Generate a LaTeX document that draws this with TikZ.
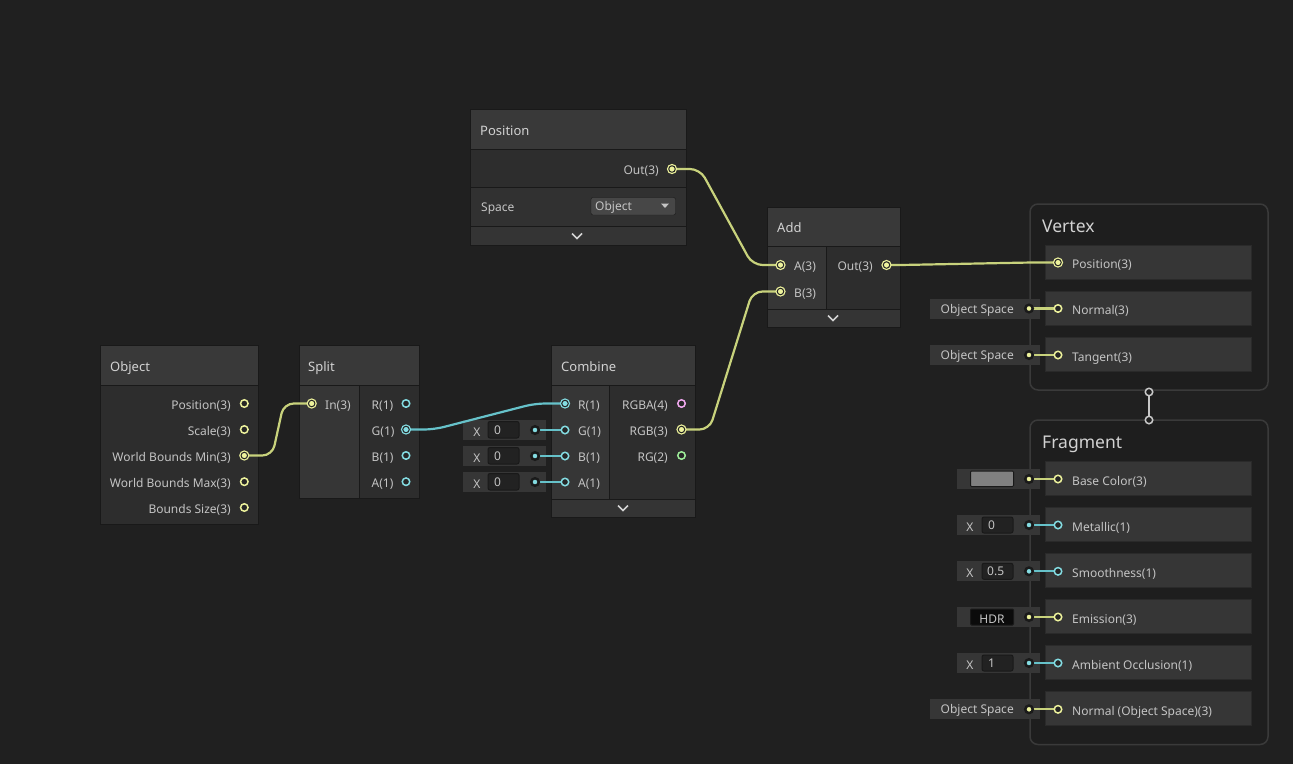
\documentclass[tikz,border=0pt]{standalone}
\usepackage{fontspec}
\setmainfont{Noto Sans}
\usetikzlibrary{calc}
\definecolor{bgc}{HTML}{202020}
\definecolor{bordc}{HTML}{191919}
\definecolor{hdrc}{HTML}{393939}
\definecolor{bodyc}{HTML}{2D2D2D}
\definecolor{inc}{HTML}{363636}
\definecolor{rowc}{HTML}{313131}
\definecolor{chevc}{HTML}{343434}
\definecolor{ddc}{HTML}{474747}
\definecolor{txtc}{HTML}{C4C4C4}
\definecolor{hdrtxt}{HTML}{D2D2D2}
\definecolor{yelc}{HTML}{EDF29C}
\definecolor{cyac}{HTML}{84DCE2}
\definecolor{pinc}{HTML}{F0A8EE}
\definecolor{grnc}{HTML}{9CEB98}
\definecolor{wyel}{HTML}{C8D27C}
\definecolor{wcya}{HTML}{66C2CA}
\definecolor{portbg}{HTML}{262626}
\definecolor{dotbg}{HTML}{1A1A1A}
\definecolor{blockc}{HTML}{1E1E1E}
\definecolor{blockb}{HTML}{3A3A3A}
\definecolor{slotc}{HTML}{363636}
\definecolor{slotb}{HTML}{2A2A2A}
\definecolor{fieldc}{HTML}{222222}
\definecolor{flowc}{HTML}{C8C8C8}
\definecolor{swatchc}{HTML}{808080}
\definecolor{hdrfield}{HTML}{0B0B0B}
\pgfdeclarelayer{boxlayer}
\pgfdeclarelayer{wirelayer}
\pgfsetlayers{boxlayer,wirelayer,main}
\begin{document}
\begin{tikzpicture}[x=1pt,y=-1pt,
 lbl/.style={text=txtc,font=\fontsize{12}{14}\selectfont,inner sep=0pt,yshift=-1.5pt},
 lw/.style={lbl,anchor=mid west},
 le/.style={lbl,anchor=mid east},
 hdr/.style={text=hdrtxt,font=\fontsize{13}{15}\selectfont,inner sep=0pt,anchor=mid west,yshift=-2.5pt},
 ttl/.style={text=hdrtxt,font=\fontsize{17.5}{20}\selectfont,inner sep=0pt,anchor=mid west,yshift=-3.5pt},
 oport/.style={circle,inner sep=0pt,minimum size=7.5pt,draw=#1,line width=1.5pt,fill=portbg},
 cport/.style={circle,inner sep=0pt,minimum size=6.5pt,draw=#1,fill=#1,double=portbg,double distance=1pt,line width=1.25pt},
 idot/.style={circle,inner sep=0pt,minimum size=7.5pt,fill=#1,draw=dotbg,line width=2.5pt},
 flow/.style={circle,inner sep=0pt,minimum size=7.5pt,draw=flowc,line width=1.5pt,fill=bgc},
 wY/.style={draw=wyel,line width=2.2pt,rounded corners=10pt},
 wC/.style={draw=wcya,line width=2.2pt,rounded corners=10pt},
 iwY/.style={draw=wyel,line width=2.2pt},
 iwC/.style={draw=wcya,line width=2.2pt},
 chev/.style={draw=hdrtxt,line width=1.5pt},
 slot/.style={fill=slotc,draw=slotb,line width=1pt},
 field/.style={fill=fieldc,draw=bordc,line width=1pt,rounded corners=2pt},
]
\useasboundingbox (0,0) rectangle (1293,764);
\begin{pgfonlayer}{boxlayer}
\fill[bgc] (0,0) rectangle (1293,764);
% Position node
\fill[bordc] (470,109) rectangle (686.5,246);
\fill[hdrc] (471,110) rectangle (685.5,149);
\fill[bodyc] (471,150) rectangle (685.5,186.5);
\fill[rowc] (471,187.5) rectangle (685.5,226);
\fill[chevc] (471,227) rectangle (685.5,245);
\filldraw[fill=ddc,draw=bordc,rounded corners=2pt] (591,197.5) rectangle (675.5,215);
\fill[txtc] (661,203.5) -- (669,203.5) -- (665,208) -- cycle;
\draw[chev] (572,233.5) -- (577,238.5) -- (582,233.5);
% Add node
\fill[bordc] (766.5,206.5) rectangle (900.5,327.5);
\fill[hdrc] (767.5,207.5) rectangle (899.5,246);
\fill[inc] (767.5,247) rectangle (826,309);
\fill[bodyc] (827,247) rectangle (899.5,309);
\fill[chevc] (767.5,310) rectangle (899.5,326.5);
\draw[chev] (828,315.5) -- (833,320.5) -- (838,315.5);
% Object node
\fill[bordc] (100,345) rectangle (258.5,525);
\fill[hdrc] (101,346) rectangle (257.5,385);
\fill[bodyc] (101,386) rectangle (257.5,524);
% Split node
\fill[bordc] (298.5,345) rectangle (420,499);
\fill[hdrc] (299.5,346) rectangle (419,385);
\fill[inc] (299.5,386) rectangle (359,498);
\fill[bodyc] (360,386) rectangle (419,498);
% Combine node
\fill[bordc] (551,345) rectangle (695.5,518);
\fill[hdrc] (552,346) rectangle (694.5,385);
\fill[inc] (552,386) rectangle (608.5,499);
\fill[bodyc] (609.5,386) rectangle (694.5,499);
\fill[chevc] (552,500) rectangle (694.5,517);
\draw[chev] (618,505.5) -- (623,510.5) -- (628,505.5);
% Combine inline boxes
\foreach \yy in {430,456,482}{
  \fill[slotc] (463,\yy-10) rectangle (546,\yy+10);
  \filldraw[field] (488,\yy-8.5) rectangle (519,\yy+8);
}
% Vertex block
\filldraw[fill=blockc,draw=blockb,line width=1.5pt,rounded corners=8pt] (1030,204) rectangle (1268,390);
\foreach \yy in {245.5,291.5,337.5}{
  \filldraw[slot] (1045.5,\yy) rectangle (1251.5,\yy+34);
}
\fill[slotc] (930,298.5) rectangle (1040,318.5);
\fill[slotc] (930,345) rectangle (1040,365);
% Fragment block
\filldraw[fill=blockc,draw=blockb,line width=1.5pt,rounded corners=8pt] (1030,420) rectangle (1268,744.5);
\foreach \yy in {461.5,507.5,553.5,599.5,645.5,691.5}{
  \filldraw[slot] (1045.5,\yy) rectangle (1251.5,\yy+34);
}
\fill[slotc] (957,469) rectangle (1040,489);
\filldraw[fill=swatchc,draw=bordc,line width=1pt,rounded corners=1pt] (970.5,471) rectangle (1013.5,486.5);
\fill[slotc] (957,515) rectangle (1040,535);
\filldraw[field] (982,517) rectangle (1013,533);
\fill[slotc] (957,561.3) rectangle (1040,581.3);
\filldraw[field] (982,563.3) rectangle (1013,579.3);
\fill[slotc] (957,607) rectangle (1040,627);
\filldraw[fill=hdrfield,draw=bordc,line width=1pt,rounded corners=1pt] (970.5,609) rectangle (1013.5,625);
\fill[slotc] (957,653) rectangle (1040,673);
\filldraw[field] (982,655) rectangle (1013,671);
\fill[slotc] (930,699.3) rectangle (1040,719.3);
\end{pgfonlayer}

% Headers
\node[hdr] (hPos) at (480,130) {Position};
\node[hdr] (hAdd) at (777,227) {Add};
\node[hdr] (hObj) at (110,366) {Object};
\node[hdr] (hSpl) at (308,366) {Split};
\node[hdr] (hCmb) at (561,366) {Combine};
\node[ttl] (hVtx) at (1042,226) {Vertex};
\node[ttl] (hFrg) at (1042,442) {Fragment};

% Position node
\node[cport=yelc] (pOut) at (672,169) {};
\node[le] (tpOut) at (659,170.5) {Out(3)};
\node[lw] (tSpace) at (481,207) {Space};
\node[lw] (tObjDD) at (595,206.5) {Object};

% Add node
\node[cport=yelc] (aA) at (780.5,265) {};
\node[cport=yelc] (aB) at (780.5,291.5) {};
\node[cport=yelc] (aOut) at (886.5,265) {};
\node[lw] (taA) at (794,266.5) {A(3)};
\node[lw] (taB) at (794,293) {B(3)};
\node[le] (taOut) at (873,266.5) {Out(3)};

% Object node
\node[oport=yelc] (oPos) at (244.3,403.5) {};
\node[oport=yelc] (oScale) at (244.3,429.5) {};
\node[cport=yelc] (oMin) at (244.3,455.5) {};
\node[oport=yelc] (oMax) at (244.3,481.7) {};
\node[oport=yelc] (oSize) at (244.3,507.5) {};
\node[le] (toPos) at (231,405) {Position(3)};
\node[le] (toScale) at (231,431) {Scale(3)};
\node[le] (toMin) at (231,457) {World Bounds Min(3)};
\node[le] (toMax) at (231,483) {World Bounds Max(3)};
\node[le] (toSize) at (231,509) {Bounds Size(3)};

% Split node
\node[cport=yelc] (sIn) at (311.7,403.5) {};
\node[lw] (tsIn) at (325,405) {In(3)};
\node[oport=cyac] (sR) at (406,403.5) {};
\node[cport=cyac] (sG) at (406,429.5) {};
\node[oport=cyac] (sB) at (406,455.5) {};
\node[oport=cyac] (sA) at (406,481.7) {};
\node[lw] (tsR) at (371.5,405) {R(1)};
\node[lw] (tsG) at (371.5,431) {G(1)};
\node[lw] (tsB) at (371.5,457) {B(1)};
\node[lw] (tsA) at (371.5,483) {A(1)};

% Combine node
\node[cport=cyac] (cR) at (565,403.5) {};
\node[oport=cyac] (cG) at (565,430) {};
\node[oport=cyac] (cB) at (565,456) {};
\node[oport=cyac] (cA) at (565,482) {};
\node[lw] (tcR) at (578,405) {R(1)};
\node[lw] (tcG) at (578,431) {G(1)};
\node[lw] (tcB) at (578,457) {B(1)};
\node[lw] (tcA) at (578,483) {A(1)};
\node[oport=pinc] (cRGBA) at (681.5,403.5) {};
\node[cport=yelc] (cRGB) at (681.5,429.5) {};
\node[oport=grnc] (cRG) at (681.5,455.5) {};
\node[le] (tcRGBA) at (668,405) {RGBA(4)};
\node[le] (tcRGB) at (668,431) {RGB(3)};
\node[le] (tcRG) at (668,457) {RG(2)};
\foreach \yy/\n in {430/G,456/B,482/A}{
  \node[lbl] (x\n) at (477,\yy+0.5) {X};
  \node[lw] (v\n) at (494,\yy+0.5) {0};
  \node[idot=cyac] (d\n) at (535,\yy) {};
}

% Vertex block
\node[cport=yelc] (vPos) at (1058,262.5) {};
\node[oport=yelc] (vNrm) at (1058,308.5) {};
\node[oport=yelc] (vTan) at (1058,355) {};
\node[lw] (tvPos) at (1072,264.5) {Position(3)};
\node[lw] (tvNrm) at (1072,310.5) {Normal(3)};
\node[lw] (tvTan) at (1072,357) {Tangent(3)};
\node[lw] (tosN) at (940.5,309) {Object Space};
\node[lw] (tosT) at (940.5,355.5) {Object Space};
\node[idot=yelc] (dN) at (1029,308.5) {};
\node[idot=yelc] (dT) at (1029,355) {};
\node[flow] (vflow) at (1149,392) {};
\node[flow] (fflow) at (1149,420) {};

% Fragment block
\node[oport=yelc] (fBase) at (1058,479) {};
\node[oport=cyac] (fMet) at (1058,525) {};
\node[oport=cyac] (fSm) at (1058,571.3) {};
\node[oport=yelc] (fEm) at (1058,617) {};
\node[oport=cyac] (fAO) at (1058,663) {};
\node[oport=yelc] (fNos) at (1058,709.3) {};
\node[lw] (tfBase) at (1072,481) {Base Color(3)};
\node[lw] (tfMet) at (1072,527) {Metallic(1)};
\node[lw] (tfSm) at (1072,573.3) {Smoothness(1)};
\node[lw] (tfEm) at (1072,619) {Emission(3)};
\node[lw] (tfAO) at (1072,665) {Ambient Occlusion(1)};
\node[lw] (tfNos) at (1072,711.3) {Normal (Object Space)(3)};
\node[idot=yelc] (dBase) at (1029,479) {};
\node[idot=cyac] (dMet) at (1029,525) {};
\node[idot=cyac] (dSm) at (1029,571.3) {};
\node[idot=yelc] (dEm) at (1029,617) {};
\node[idot=cyac] (dAO) at (1029,663) {};
\node[idot=yelc] (dNos) at (1029,709.3) {};
\node[lbl] (xMet) at (970,525.5) {X};
\node[lw] (vMet) at (988,525.5) {0};
\node[lbl] (xSm) at (970,571.8) {X};
\node[lw] (vSm) at (987,571.8) {0.5};
\node[lbl] (vEm) at (992,617.5) {HDR};
\node[lbl] (xAO) at (970,663.5) {X};
\node[lw] (vAO) at (988,663.5) {1};
\node[lw] (tosNos) at (940.5,709.8) {Object Space};

% Wires
\begin{pgfonlayer}{wirelayer}
\draw[wY] (pOut.center) -- ++(28,0) -- ($(aA.center)+(-28,0)$) -- (aA.center);
\draw[wY] (aOut.center) -- ++(15,0) -- ($(vPos.center)+(-28,0)$) -- (vPos.center);
\draw[wY] (oMin.center) -- ++(28,0) -- ($(sIn.center)+(-28,0)$) -- (sIn.center);
\draw[wC] (sG.center) -- ++(28,0) -- ($(cR.center)+(-30,0)$) -- (cR.center);
\draw[wY] (cRGB.center) -- ++(28,0) -- ($(aB.center)+(-28,0)$) -- (aB.center);
\draw[iwC] (dG.center) -- (cG.center);
\draw[iwC] (dB.center) -- (cB.center);
\draw[iwC] (dA.center) -- (cA.center);
\draw[iwY] (dN.center) -- (vNrm.center);
\draw[iwY] (dT.center) -- (vTan.center);
\draw[iwY] (dBase.center) -- (fBase.center);
\draw[iwC] (dMet.center) -- (fMet.center);
\draw[iwC] (dSm.center) -- (fSm.center);
\draw[iwY] (dEm.center) -- (fEm.center);
\draw[iwC] (dAO.center) -- (fAO.center);
\draw[iwY] (dNos.center) -- (fNos.center);
\draw[draw=flowc,line width=2pt] (vflow.center) -- (fflow.center);
\end{pgfonlayer}
\end{tikzpicture}
\end{document}
